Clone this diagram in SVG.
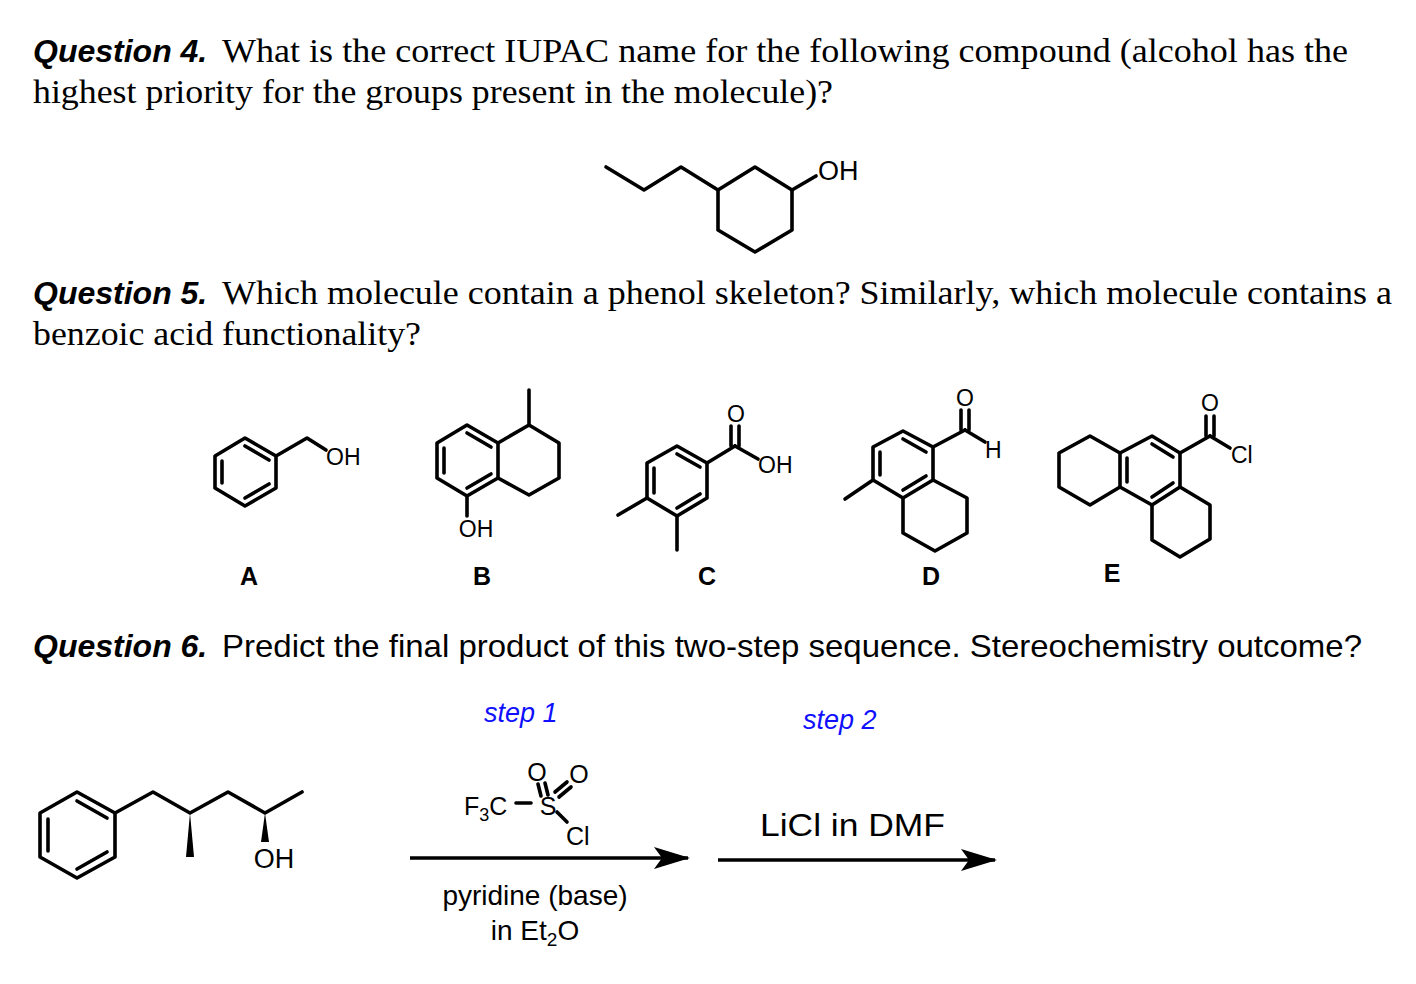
<svg xmlns="http://www.w3.org/2000/svg" width="1416" height="984" viewBox="0 0 1416 984">
<style>
.b{fill:none;stroke:#000;stroke-width:3.6;stroke-linejoin:round;stroke-linecap:round}
.t{font-family:"Liberation Serif",serif;font-size:34px}
.q{font-family:"Liberation Sans",sans-serif;font-size:32px;font-weight:bold;font-style:italic}
.s{font-family:"Liberation Sans",sans-serif;font-size:32px}
.a{font-family:"Liberation Sans",sans-serif;font-size:23px}
.l{font-family:"Liberation Sans",sans-serif;font-size:25px;font-weight:bold}
.st{font-family:"Liberation Sans",sans-serif;font-size:27px;font-style:italic;fill:#1010ff}
</style>
<defs><marker id="ah" markerWidth="36" markerHeight="22" refX="34" refY="11" orient="auto" markerUnits="userSpaceOnUse" viewBox="0 0 36 22"><path d="M0,0L36,11L0,22L8,11z"/></marker></defs>
<rect width="1416" height="984" fill="#fff"/>
<g id="text">
<text x="33" y="62" class="q">Question 4.</text>
<text x="222" y="62" class="t" textLength="1126" lengthAdjust="spacingAndGlyphs">What is the correct IUPAC name for the following compound (alcohol has the</text>
<text x="33" y="103" class="t" textLength="800" lengthAdjust="spacingAndGlyphs">highest priority for the groups present in the molecule)?</text>
<text x="33" y="304" class="q">Question 5.</text>
<text x="222" y="304" class="t" textLength="1170" lengthAdjust="spacingAndGlyphs">Which molecule contain a phenol skeleton? Similarly, which molecule contains a</text>
<text x="33" y="345" class="t" textLength="388" lengthAdjust="spacingAndGlyphs">benzoic acid functionality?</text>
<text x="33" y="657" class="q">Question 6.</text>
<text x="222" y="657" class="s" textLength="1140" lengthAdjust="spacingAndGlyphs">Predict the final product of this two-step sequence. Stereochemistry outcome?</text>
<text x="484" y="722" class="st">step 1</text>
<text x="803" y="729" class="st">step 2</text>
<text x="760" y="836" class="s" textLength="185" lengthAdjust="spacingAndGlyphs">LiCl in DMF</text>
<text x="535" y="905" class="a" text-anchor="middle" style="font-size:28px">pyridine (base)</text>
<text x="535" y="940" class="a" text-anchor="middle" style="font-size:28px">in Et<tspan font-size="19" dy="6">2</tspan><tspan dy="-6">O</tspan></text>
<text x="249" y="585" class="l" text-anchor="middle">A</text>
<text x="482" y="585" class="l" text-anchor="middle">B</text>
<text x="707" y="585" class="l" text-anchor="middle">C</text>
<text x="931" y="585" class="l" text-anchor="middle">D</text>
<text x="1112" y="582" class="l" text-anchor="middle">E</text>
</g>
<g id="q4mol">
<polyline class="b" points="606,167 644,190 681,167 718,190"/>
<polygon class="b" points="718,190 755,167 792,190 792,230 755,252 718,230"/>
<line class="b" x1="792" y1="190" x2="816" y2="176"/>
<text x="818" y="180" class="a" style="font-size:27px">OH</text>
</g>
<g id="molA">
<polygon class="b" points="245,438 276,456 276,488 245,506 215,488 215,456"/>
<line class="b" x1="245" y1="446" x2="269" y2="460"/><line class="b" x1="269" y1="484" x2="245" y2="498"/><line class="b" x1="222" y1="461" x2="222" y2="483"/>
<polyline class="b" points="276,456 307,438 326,450"/>
<text x="326" y="465" class="a">OH</text>
</g>
<g id="molB">
<polygon class="b" points="467,425 498,443 498,478 467,496 437,478 437,443"/>
<line class="b" x1="467" y1="433" x2="491" y2="447"/><line class="b" x1="491" y1="474" x2="467" y2="488"/><line class="b" x1="444" y1="448" x2="444" y2="473"/>
<polyline class="b" points="498,443 529,425 559,443 559,478 529,495 498,478"/>
<line class="b" x1="529" y1="425" x2="529" y2="390"/>
<line class="b" x1="467" y1="496" x2="467" y2="516"/>
<text x="476" y="537" class="a" text-anchor="middle">OH</text>
</g>
<g id="molC">
<polygon class="b" points="677,446 707,463 707,498 677,516 647,498 647,463"/>
<line class="b" x1="677" y1="454" x2="700" y2="467"/><line class="b" x1="700" y1="494" x2="677" y2="508"/><line class="b" x1="654" y1="468" x2="654" y2="493"/>
<line class="b" x1="707" y1="463" x2="735" y2="446"/>
<line class="b" x1="731" y1="446" x2="731" y2="426"/><line class="b" x1="739" y1="446" x2="739" y2="426"/>
<text x="736" y="422" class="a" text-anchor="middle">O</text>
<line class="b" x1="735" y1="446" x2="758" y2="459"/>
<text x="758" y="473" class="a">OH</text>
<line class="b" x1="647" y1="498" x2="618" y2="515"/>
<line class="b" x1="677" y1="516" x2="677" y2="550"/>
</g>
<g id="molD">
<polygon class="b" points="903,431 933,447 933,480 903,498 873,480 873,447"/>
<line class="b" x1="903" y1="439" x2="926" y2="452"/><line class="b" x1="926" y1="476" x2="903" y2="490"/><line class="b" x1="880" y1="452" x2="880" y2="475"/>
<polyline class="b" points="933,480 967,498 967,533 935,551 903,533 903,498"/>
<line class="b" x1="873" y1="480" x2="845" y2="499"/>
<line class="b" x1="933" y1="447" x2="965" y2="430"/>
<line class="b" x1="961" y1="430" x2="961" y2="410"/><line class="b" x1="969" y1="430" x2="969" y2="410"/>
<text x="965" y="406" class="a" text-anchor="middle">O</text>
<line class="b" x1="965" y1="430" x2="985" y2="442"/>
<text x="985" y="458" class="a">H</text>
</g>
<g id="molE">
<polygon class="b" points="1152,436 1180,453 1180,487 1152,505 1120,487 1120,453"/>
<line class="b" x1="1152" y1="444" x2="1173" y2="457"/><line class="b" x1="1173" y1="483" x2="1152" y2="497"/><line class="b" x1="1127" y1="458" x2="1127" y2="482"/>
<polyline class="b" points="1120,453 1090,436 1059,453 1059,487 1090,505 1120,487"/>
<polyline class="b" points="1180,487 1210,505 1210,539 1180,557 1152,540 1152,505"/>
<line class="b" x1="1180" y1="453" x2="1210" y2="436"/>
<line class="b" x1="1206" y1="436" x2="1206" y2="416"/><line class="b" x1="1214" y1="436" x2="1214" y2="416"/>
<text x="1210" y="411" class="a" text-anchor="middle">O</text>
<line class="b" x1="1210" y1="436" x2="1230" y2="448"/>
<text x="1231" y="463" class="a">Cl</text>
</g>
<g id="q6mol">
<polygon class="b" points="77,792 115,813 115,857 77,878 40,857 40,813"/>
<line class="b" x1="77" y1="801" x2="107" y2="818"/><line class="b" x1="107" y1="852" x2="77" y2="869"/><line class="b" x1="48" y1="819" x2="48" y2="851"/>
<polyline class="b" points="115,813 153,792 190,813 228,792 265,813 302,792"/>
<polygon points="190,813 186,857 194,857" fill="#000"/>
<polygon points="265,813 261,842 269,842" fill="#000"/>
<text x="274" y="868" class="a" text-anchor="middle" style="font-size:27px">OH</text>
</g>
<g id="reagent">
<text x="464" y="815" class="a" style="font-size:25px">F<tspan font-size="18" dy="6">3</tspan><tspan dy="-6">C</tspan></text>
<line class="b" x1="516" y1="803" x2="531" y2="803" stroke-width="3"/>
<text x="548" y="815" class="a" text-anchor="middle" style="font-size:25px">S</text>
<text x="537" y="781" class="a" text-anchor="middle" style="font-size:25px">O</text>
<text x="579" y="783" class="a" text-anchor="middle" style="font-size:25px">O</text>
<line class="b" x1="538" y1="784" x2="541" y2="796" stroke-width="2.6"/><line class="b" x1="545" y1="783" x2="548" y2="795" stroke-width="2.6"/>
<line class="b" x1="555" y1="792" x2="567" y2="782" stroke-width="2.6"/><line class="b" x1="559" y1="797" x2="571" y2="787" stroke-width="2.6"/>
<line class="b" x1="557" y1="812" x2="567" y2="822" stroke-width="2.6"/>
<text x="566" y="845" class="a" style="font-size:25px">Cl</text>
</g>
<g id="connectors">
<line x1="410" y1="858" x2="688" y2="858" stroke="#000" stroke-width="3.5" marker-end="url(#ah)"/>
<line x1="718" y1="860" x2="995" y2="860" stroke="#000" stroke-width="3.5" marker-end="url(#ah)"/>
</g>
</svg>
